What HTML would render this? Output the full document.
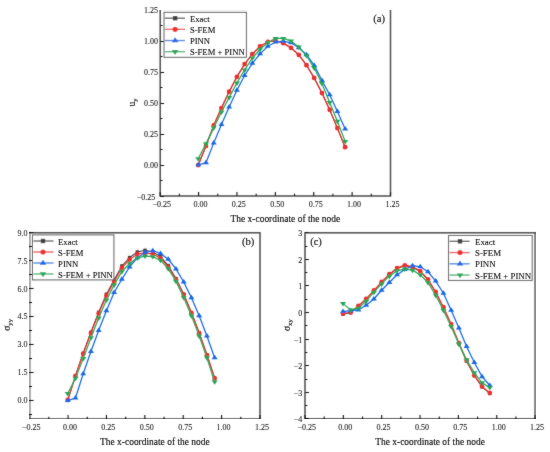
<!DOCTYPE html>
<html><head><meta charset="utf-8"><style>
html,body{margin:0;padding:0;background:#fff;}
svg{display:block;}
text{font-family:"Liberation Serif","Times New Roman",serif;stroke-width:0.12;}
</style></head><body>
<svg width="550" height="452" viewBox="0 0 550 452">
<defs><filter id="bl" x="0" y="0" width="1" height="1"><feConvolveMatrix order="3" kernelMatrix="1 2 1 2 24 2 1 2 1" edgeMode="duplicate" preserveAlpha="false"/></filter>
<filter id="bt" x="0" y="0" width="1" height="1"><feConvolveMatrix order="3" kernelMatrix="1 2 1 2 36 2 1 2 1" edgeMode="duplicate" preserveAlpha="false"/></filter></defs>
<rect width="550" height="452" fill="#fff"/>
<g filter="url(#bl)">
<polyline points="198.23,165.03 205.97,145.96 213.70,125.40 221.43,108.05 229.16,91.70 236.89,76.84 244.62,64.08 252.35,54.05 260.09,46.37 267.82,41.91 275.55,40.55 283.28,43.15 291.01,47.86 298.74,54.79 306.48,65.20 314.21,77.96 321.94,93.07 329.67,109.66 337.40,128.12 345.14,147.20" fill="none" stroke="#3c3c3c" stroke-width="1.05"/>
<rect x="196.53" y="163.33" width="3.40" height="3.40" fill="#3c3c3c"/><rect x="204.27" y="144.26" width="3.40" height="3.40" fill="#3c3c3c"/><rect x="212.00" y="123.70" width="3.40" height="3.40" fill="#3c3c3c"/><rect x="219.73" y="106.35" width="3.40" height="3.40" fill="#3c3c3c"/><rect x="227.46" y="90.00" width="3.40" height="3.40" fill="#3c3c3c"/><rect x="235.19" y="75.14" width="3.40" height="3.40" fill="#3c3c3c"/><rect x="242.92" y="62.38" width="3.40" height="3.40" fill="#3c3c3c"/><rect x="250.66" y="52.35" width="3.40" height="3.40" fill="#3c3c3c"/><rect x="258.39" y="44.67" width="3.40" height="3.40" fill="#3c3c3c"/><rect x="266.12" y="40.21" width="3.40" height="3.40" fill="#3c3c3c"/><rect x="273.85" y="38.85" width="3.40" height="3.40" fill="#3c3c3c"/><rect x="281.58" y="41.45" width="3.40" height="3.40" fill="#3c3c3c"/><rect x="289.31" y="46.16" width="3.40" height="3.40" fill="#3c3c3c"/><rect x="297.04" y="53.09" width="3.40" height="3.40" fill="#3c3c3c"/><rect x="304.78" y="63.50" width="3.40" height="3.40" fill="#3c3c3c"/><rect x="312.51" y="76.26" width="3.40" height="3.40" fill="#3c3c3c"/><rect x="320.24" y="91.37" width="3.40" height="3.40" fill="#3c3c3c"/><rect x="327.97" y="107.96" width="3.40" height="3.40" fill="#3c3c3c"/><rect x="335.70" y="126.42" width="3.40" height="3.40" fill="#3c3c3c"/><rect x="343.44" y="145.50" width="3.40" height="3.40" fill="#3c3c3c"/>
<polyline points="198.23,165.03 205.97,145.96 213.70,125.40 221.43,108.05 229.16,91.70 236.89,76.84 244.62,64.08 252.35,54.05 260.09,46.37 267.82,41.91 275.55,40.55 283.28,43.15 291.01,47.86 298.74,54.79 306.48,65.20 314.21,77.96 321.94,93.07 329.67,109.66 337.40,128.12 345.14,147.20" fill="none" stroke="#ec2d2d" stroke-width="1.25"/>
<circle cx="198.23" cy="165.03" r="2.35" fill="#ec2d2d"/><circle cx="205.97" cy="145.96" r="2.35" fill="#ec2d2d"/><circle cx="213.70" cy="125.40" r="2.35" fill="#ec2d2d"/><circle cx="221.43" cy="108.05" r="2.35" fill="#ec2d2d"/><circle cx="229.16" cy="91.70" r="2.35" fill="#ec2d2d"/><circle cx="236.89" cy="76.84" r="2.35" fill="#ec2d2d"/><circle cx="244.62" cy="64.08" r="2.35" fill="#ec2d2d"/><circle cx="252.35" cy="54.05" r="2.35" fill="#ec2d2d"/><circle cx="260.09" cy="46.37" r="2.35" fill="#ec2d2d"/><circle cx="267.82" cy="41.91" r="2.35" fill="#ec2d2d"/><circle cx="275.55" cy="40.55" r="2.35" fill="#ec2d2d"/><circle cx="283.28" cy="43.15" r="2.35" fill="#ec2d2d"/><circle cx="291.01" cy="47.86" r="2.35" fill="#ec2d2d"/><circle cx="298.74" cy="54.79" r="2.35" fill="#ec2d2d"/><circle cx="306.48" cy="65.20" r="2.35" fill="#ec2d2d"/><circle cx="314.21" cy="77.96" r="2.35" fill="#ec2d2d"/><circle cx="321.94" cy="93.07" r="2.35" fill="#ec2d2d"/><circle cx="329.67" cy="109.66" r="2.35" fill="#ec2d2d"/><circle cx="337.40" cy="128.12" r="2.35" fill="#ec2d2d"/><circle cx="345.14" cy="147.20" r="2.35" fill="#ec2d2d"/>
<polyline points="198.23,164.79 205.97,162.80 213.70,143.11 221.43,124.41 229.16,106.94 236.89,90.22 244.62,75.48 252.35,63.34 260.09,53.80 267.82,46.25 275.55,42.03 283.28,41.17 291.01,42.78 298.74,47.73 306.48,54.79 314.21,65.44 321.94,80.43 329.67,94.68 337.40,111.52 345.14,128.99" fill="none" stroke="#1767e2" stroke-width="1.25"/>
<path d="M198.23,161.79L201.23,166.29L195.23,166.29Z" fill="#1767e2"/><path d="M205.97,159.80L208.97,164.30L202.97,164.30Z" fill="#1767e2"/><path d="M213.70,140.11L216.70,144.61L210.70,144.61Z" fill="#1767e2"/><path d="M221.43,121.41L224.43,125.91L218.43,125.91Z" fill="#1767e2"/><path d="M229.16,103.94L232.16,108.44L226.16,108.44Z" fill="#1767e2"/><path d="M236.89,87.22L239.89,91.72L233.89,91.72Z" fill="#1767e2"/><path d="M244.62,72.48L247.62,76.98L241.62,76.98Z" fill="#1767e2"/><path d="M252.35,60.34L255.35,64.84L249.35,64.84Z" fill="#1767e2"/><path d="M260.09,50.80L263.09,55.30L257.09,55.30Z" fill="#1767e2"/><path d="M267.82,43.25L270.82,47.75L264.82,47.75Z" fill="#1767e2"/><path d="M275.55,39.03L278.55,43.53L272.55,43.53Z" fill="#1767e2"/><path d="M283.28,38.17L286.28,42.67L280.28,42.67Z" fill="#1767e2"/><path d="M291.01,39.78L294.01,44.28L288.01,44.28Z" fill="#1767e2"/><path d="M298.74,44.73L301.74,49.23L295.74,49.23Z" fill="#1767e2"/><path d="M306.48,51.79L309.48,56.29L303.48,56.29Z" fill="#1767e2"/><path d="M314.21,62.44L317.21,66.94L311.21,66.94Z" fill="#1767e2"/><path d="M321.94,77.43L324.94,81.93L318.94,81.93Z" fill="#1767e2"/><path d="M329.67,91.68L332.67,96.18L326.67,96.18Z" fill="#1767e2"/><path d="M337.40,108.52L340.40,113.02L334.40,113.02Z" fill="#1767e2"/><path d="M345.14,125.99L348.14,130.49L342.14,130.49Z" fill="#1767e2"/>
<polyline points="198.23,158.72 205.97,143.85 213.70,127.87 221.43,112.02 229.16,97.40 236.89,83.03 244.62,69.90 252.35,58.01 260.09,49.22 267.82,42.41 275.55,38.44 283.28,38.44 291.01,40.92 298.74,47.11 306.48,55.54 314.21,68.05 321.94,83.41 329.67,102.60 337.40,121.31 345.14,141.50" fill="none" stroke="#27a457" stroke-width="1.25"/>
<path d="M198.23,161.72L201.23,157.22L195.23,157.22Z" fill="#27a457"/><path d="M205.97,146.85L208.97,142.35L202.97,142.35Z" fill="#27a457"/><path d="M213.70,130.87L216.70,126.37L210.70,126.37Z" fill="#27a457"/><path d="M221.43,115.02L224.43,110.52L218.43,110.52Z" fill="#27a457"/><path d="M229.16,100.40L232.16,95.90L226.16,95.90Z" fill="#27a457"/><path d="M236.89,86.03L239.89,81.53L233.89,81.53Z" fill="#27a457"/><path d="M244.62,72.90L247.62,68.40L241.62,68.40Z" fill="#27a457"/><path d="M252.35,61.01L255.35,56.51L249.35,56.51Z" fill="#27a457"/><path d="M260.09,52.22L263.09,47.72L257.09,47.72Z" fill="#27a457"/><path d="M267.82,45.41L270.82,40.91L264.82,40.91Z" fill="#27a457"/><path d="M275.55,41.44L278.55,36.94L272.55,36.94Z" fill="#27a457"/><path d="M283.28,41.44L286.28,36.94L280.28,36.94Z" fill="#27a457"/><path d="M291.01,43.92L294.01,39.42L288.01,39.42Z" fill="#27a457"/><path d="M298.74,50.11L301.74,45.61L295.74,45.61Z" fill="#27a457"/><path d="M306.48,58.54L309.48,54.04L303.48,54.04Z" fill="#27a457"/><path d="M314.21,71.05L317.21,66.55L311.21,66.55Z" fill="#27a457"/><path d="M321.94,86.41L324.94,81.91L318.94,81.91Z" fill="#27a457"/><path d="M329.67,105.60L332.67,101.10L326.67,101.10Z" fill="#27a457"/><path d="M337.40,124.31L340.40,119.81L334.40,119.81Z" fill="#27a457"/><path d="M345.14,144.50L348.14,140.00L342.14,140.00Z" fill="#27a457"/>
<rect x="160.20" y="10.20" width="230.30" height="185.80" fill="none" stroke="#4e4e4e" stroke-width="1.5"/>
<path d="M160.20,196.00v-3.9M198.58,196.00v-3.9M236.97,196.00v-3.9M275.35,196.00v-3.9M313.73,196.00v-3.9M352.12,196.00v-3.9M390.50,196.00v-3.9M179.39,196.00v-2.3M217.77,196.00v-2.3M256.16,196.00v-2.3M294.54,196.00v-2.3M332.93,196.00v-2.3M371.31,196.00v-2.3M160.20,196.50h3.9M160.20,165.50h3.9M160.20,134.50h3.9M160.20,103.50h3.9M160.20,72.50h3.9M160.20,41.50h3.9M160.20,10.50h3.9M160.20,180.50h2.3M160.20,149.50h2.3M160.20,118.50h2.3M160.20,87.50h2.3M160.20,56.50h2.3M160.20,25.50h2.3" stroke="#111" stroke-width="1.1"/>
<rect x="164.00" y="12.40" width="82.4" height="44.9" fill="white" stroke="#5a5a5a" stroke-width="1"/>
<line x1="165.00" y1="18.20" x2="185.00" y2="18.20" stroke="#3c3c3c" stroke-width="1.3" stroke-opacity="0.85"/>
<rect x="172.90" y="16.00" width="4.40" height="4.40" fill="#3c3c3c"/>
<line x1="165.00" y1="29.37" x2="185.00" y2="29.37" stroke="#ec2d2d" stroke-width="1.3" stroke-opacity="0.85"/>
<circle cx="175.10" cy="29.37" r="2.59" fill="#ec2d2d"/>
<line x1="165.00" y1="40.54" x2="185.00" y2="40.54" stroke="#1767e2" stroke-width="1.3" stroke-opacity="0.85"/>
<path d="M175.10,37.24L178.40,42.19L171.80,42.19Z" fill="#1767e2"/>
<line x1="165.00" y1="51.71" x2="185.00" y2="51.71" stroke="#27a457" stroke-width="1.3" stroke-opacity="0.85"/>
<path d="M175.10,55.01L178.40,50.06L171.80,50.06Z" fill="#27a457"/>
<polyline points="67.73,400.38 75.47,375.62 83.20,353.27 90.93,332.23 98.66,312.31 106.39,294.25 114.12,279.91 121.86,265.94 129.59,257.56 137.32,251.98 145.05,250.30 152.78,251.98 160.51,256.63 168.25,265.57 175.98,278.61 183.71,294.06 191.44,312.49 199.17,332.79 206.90,354.76 214.64,378.04" fill="none" stroke="#3c3c3c" stroke-width="1.05"/>
<rect x="66.03" y="398.68" width="3.40" height="3.40" fill="#3c3c3c"/><rect x="73.77" y="373.92" width="3.40" height="3.40" fill="#3c3c3c"/><rect x="81.50" y="351.57" width="3.40" height="3.40" fill="#3c3c3c"/><rect x="89.23" y="330.53" width="3.40" height="3.40" fill="#3c3c3c"/><rect x="96.96" y="310.61" width="3.40" height="3.40" fill="#3c3c3c"/><rect x="104.69" y="292.55" width="3.40" height="3.40" fill="#3c3c3c"/><rect x="112.42" y="278.21" width="3.40" height="3.40" fill="#3c3c3c"/><rect x="120.16" y="264.24" width="3.40" height="3.40" fill="#3c3c3c"/><rect x="127.89" y="255.86" width="3.40" height="3.40" fill="#3c3c3c"/><rect x="135.62" y="250.28" width="3.40" height="3.40" fill="#3c3c3c"/><rect x="143.35" y="248.60" width="3.40" height="3.40" fill="#3c3c3c"/><rect x="151.08" y="250.28" width="3.40" height="3.40" fill="#3c3c3c"/><rect x="158.81" y="254.93" width="3.40" height="3.40" fill="#3c3c3c"/><rect x="166.55" y="263.87" width="3.40" height="3.40" fill="#3c3c3c"/><rect x="174.28" y="276.91" width="3.40" height="3.40" fill="#3c3c3c"/><rect x="182.01" y="292.36" width="3.40" height="3.40" fill="#3c3c3c"/><rect x="189.74" y="310.79" width="3.40" height="3.40" fill="#3c3c3c"/><rect x="197.47" y="331.09" width="3.40" height="3.40" fill="#3c3c3c"/><rect x="205.20" y="353.06" width="3.40" height="3.40" fill="#3c3c3c"/><rect x="212.94" y="376.34" width="3.40" height="3.40" fill="#3c3c3c"/>
<polyline points="67.73,399.82 75.47,375.99 83.20,353.83 90.93,332.98 98.66,313.42 106.39,295.74 114.12,281.58 121.86,267.81 129.59,259.61 137.32,254.03 145.05,252.91 152.78,254.03 160.51,258.31 168.25,266.87 175.98,279.54 183.71,294.80 191.44,313.05 199.17,333.16 206.90,355.13 214.64,378.41" fill="none" stroke="#ec2d2d" stroke-width="1.25"/>
<circle cx="67.73" cy="399.82" r="2.35" fill="#ec2d2d"/><circle cx="75.47" cy="375.99" r="2.35" fill="#ec2d2d"/><circle cx="83.20" cy="353.83" r="2.35" fill="#ec2d2d"/><circle cx="90.93" cy="332.98" r="2.35" fill="#ec2d2d"/><circle cx="98.66" cy="313.42" r="2.35" fill="#ec2d2d"/><circle cx="106.39" cy="295.74" r="2.35" fill="#ec2d2d"/><circle cx="114.12" cy="281.58" r="2.35" fill="#ec2d2d"/><circle cx="121.86" cy="267.81" r="2.35" fill="#ec2d2d"/><circle cx="129.59" cy="259.61" r="2.35" fill="#ec2d2d"/><circle cx="137.32" cy="254.03" r="2.35" fill="#ec2d2d"/><circle cx="145.05" cy="252.91" r="2.35" fill="#ec2d2d"/><circle cx="152.78" cy="254.03" r="2.35" fill="#ec2d2d"/><circle cx="160.51" cy="258.31" r="2.35" fill="#ec2d2d"/><circle cx="168.25" cy="266.87" r="2.35" fill="#ec2d2d"/><circle cx="175.98" cy="279.54" r="2.35" fill="#ec2d2d"/><circle cx="183.71" cy="294.80" r="2.35" fill="#ec2d2d"/><circle cx="191.44" cy="313.05" r="2.35" fill="#ec2d2d"/><circle cx="199.17" cy="333.16" r="2.35" fill="#ec2d2d"/><circle cx="206.90" cy="355.13" r="2.35" fill="#ec2d2d"/><circle cx="214.64" cy="378.41" r="2.35" fill="#ec2d2d"/>
<polyline points="67.73,400.62 75.47,398.02 83.20,373.81 90.93,351.47 98.66,330.42 106.39,310.69 114.12,292.44 121.86,279.22 129.59,266.93 137.32,257.81 145.05,252.59 152.78,250.73 160.51,253.52 168.25,259.30 175.98,268.98 183.71,282.01 191.44,297.65 199.17,315.71 206.90,336.01 214.64,357.80" fill="none" stroke="#1767e2" stroke-width="1.25"/>
<path d="M67.73,397.62L70.73,402.12L64.73,402.12Z" fill="#1767e2"/><path d="M75.47,395.02L78.47,399.52L72.47,399.52Z" fill="#1767e2"/><path d="M83.20,370.81L86.20,375.31L80.20,375.31Z" fill="#1767e2"/><path d="M90.93,348.47L93.93,352.97L87.93,352.97Z" fill="#1767e2"/><path d="M98.66,327.42L101.66,331.92L95.66,331.92Z" fill="#1767e2"/><path d="M106.39,307.69L109.39,312.19L103.39,312.19Z" fill="#1767e2"/><path d="M114.12,289.44L117.12,293.94L111.12,293.94Z" fill="#1767e2"/><path d="M121.86,276.22L124.86,280.72L118.86,280.72Z" fill="#1767e2"/><path d="M129.59,263.93L132.59,268.43L126.59,268.43Z" fill="#1767e2"/><path d="M137.32,254.81L140.32,259.31L134.32,259.31Z" fill="#1767e2"/><path d="M145.05,249.59L148.05,254.09L142.05,254.09Z" fill="#1767e2"/><path d="M152.78,247.73L155.78,252.23L149.78,252.23Z" fill="#1767e2"/><path d="M160.51,250.52L163.51,255.02L157.51,255.02Z" fill="#1767e2"/><path d="M168.25,256.30L171.25,260.80L165.25,260.80Z" fill="#1767e2"/><path d="M175.98,265.98L178.98,270.48L172.98,270.48Z" fill="#1767e2"/><path d="M183.71,279.01L186.71,283.51L180.71,283.51Z" fill="#1767e2"/><path d="M191.44,294.65L194.44,299.15L188.44,299.15Z" fill="#1767e2"/><path d="M199.17,312.71L202.17,317.21L196.17,317.21Z" fill="#1767e2"/><path d="M206.90,333.01L209.90,337.51L203.90,337.51Z" fill="#1767e2"/><path d="M214.64,354.80L217.64,359.30L211.64,359.30Z" fill="#1767e2"/>
<polyline points="67.73,393.43 75.47,378.17 83.20,358.62 90.93,337.76 98.66,318.02 106.39,299.96 114.12,284.88 121.86,271.47 129.59,263.47 137.32,257.88 145.05,256.02 152.78,256.58 160.51,260.30 168.25,268.68 175.98,281.16 183.71,297.54 191.44,315.79 199.17,335.90 206.90,357.87 214.64,381.70" fill="none" stroke="#27a457" stroke-width="1.25"/>
<path d="M67.73,396.43L70.73,391.93L64.73,391.93Z" fill="#27a457"/><path d="M75.47,381.17L78.47,376.67L72.47,376.67Z" fill="#27a457"/><path d="M83.20,361.62L86.20,357.12L80.20,357.12Z" fill="#27a457"/><path d="M90.93,340.76L93.93,336.26L87.93,336.26Z" fill="#27a457"/><path d="M98.66,321.02L101.66,316.52L95.66,316.52Z" fill="#27a457"/><path d="M106.39,302.96L109.39,298.46L103.39,298.46Z" fill="#27a457"/><path d="M114.12,287.88L117.12,283.38L111.12,283.38Z" fill="#27a457"/><path d="M121.86,274.47L124.86,269.97L118.86,269.97Z" fill="#27a457"/><path d="M129.59,266.47L132.59,261.97L126.59,261.97Z" fill="#27a457"/><path d="M137.32,260.88L140.32,256.38L134.32,256.38Z" fill="#27a457"/><path d="M145.05,259.02L148.05,254.52L142.05,254.52Z" fill="#27a457"/><path d="M152.78,259.58L155.78,255.08L149.78,255.08Z" fill="#27a457"/><path d="M160.51,263.30L163.51,258.80L157.51,258.80Z" fill="#27a457"/><path d="M168.25,271.68L171.25,267.18L165.25,267.18Z" fill="#27a457"/><path d="M175.98,284.16L178.98,279.66L172.98,279.66Z" fill="#27a457"/><path d="M183.71,300.54L186.71,296.04L180.71,296.04Z" fill="#27a457"/><path d="M191.44,318.79L194.44,314.29L188.44,314.29Z" fill="#27a457"/><path d="M199.17,338.90L202.17,334.40L196.17,334.40Z" fill="#27a457"/><path d="M206.90,360.87L209.90,356.37L203.90,356.37Z" fill="#27a457"/><path d="M214.64,384.70L217.64,380.20L211.64,380.20Z" fill="#27a457"/>
<rect x="29.70" y="232.80" width="230.30" height="186.20" fill="none" stroke="#4e4e4e" stroke-width="1.5"/>
<path d="M29.70,419.00v-3.9M68.08,419.00v-3.9M106.47,419.00v-3.9M144.85,419.00v-3.9M183.23,419.00v-3.9M221.62,419.00v-3.9M260.00,419.00v-3.9M48.89,419.00v-2.3M87.28,419.00v-2.3M125.66,419.00v-2.3M164.04,419.00v-2.3M202.43,419.00v-2.3M240.81,419.00v-2.3M29.70,400.50h3.9M29.70,372.50h3.9M29.70,344.50h3.9M29.70,316.50h3.9M29.70,288.50h3.9M29.70,260.50h3.9M29.70,232.50h3.9M29.70,414.50h2.3M29.70,386.50h2.3M29.70,358.50h2.3M29.70,330.50h2.3M29.70,302.50h2.3M29.70,274.50h2.3M29.70,246.50h2.3" stroke="#111" stroke-width="1.1"/>
<rect x="32.50" y="234.90" width="81.4" height="45.0" fill="white" stroke="#5a5a5a" stroke-width="1"/>
<line x1="33.50" y1="241.00" x2="53.50" y2="241.00" stroke="#3c3c3c" stroke-width="1.3" stroke-opacity="0.85"/>
<rect x="40.80" y="238.80" width="4.40" height="4.40" fill="#3c3c3c"/>
<line x1="33.50" y1="252.00" x2="53.50" y2="252.00" stroke="#ec2d2d" stroke-width="1.3" stroke-opacity="0.85"/>
<circle cx="43.00" cy="252.00" r="2.59" fill="#ec2d2d"/>
<line x1="33.50" y1="263.00" x2="53.50" y2="263.00" stroke="#1767e2" stroke-width="1.3" stroke-opacity="0.85"/>
<path d="M43.00,259.70L46.30,264.65L39.70,264.65Z" fill="#1767e2"/>
<line x1="33.50" y1="274.00" x2="53.50" y2="274.00" stroke="#27a457" stroke-width="1.3" stroke-opacity="0.85"/>
<path d="M43.00,277.30L46.30,272.35L39.70,272.35Z" fill="#27a457"/>
<polyline points="343.00,314.13 350.72,312.80 358.45,306.34 366.18,299.42 373.90,290.97 381.62,282.49 389.35,274.70 397.07,268.58 404.80,265.79 412.52,267.31 420.25,271.51 427.98,279.91 435.70,292.48 443.42,307.75 451.15,324.65 458.87,343.53 466.60,361.24 474.32,375.75 482.05,386.89 489.78,393.46" fill="none" stroke="#3c3c3c" stroke-width="1.05"/>
<rect x="341.30" y="312.43" width="3.40" height="3.40" fill="#3c3c3c"/><rect x="349.02" y="311.10" width="3.40" height="3.40" fill="#3c3c3c"/><rect x="356.75" y="304.64" width="3.40" height="3.40" fill="#3c3c3c"/><rect x="364.48" y="297.72" width="3.40" height="3.40" fill="#3c3c3c"/><rect x="372.20" y="289.27" width="3.40" height="3.40" fill="#3c3c3c"/><rect x="379.92" y="280.79" width="3.40" height="3.40" fill="#3c3c3c"/><rect x="387.65" y="273.00" width="3.40" height="3.40" fill="#3c3c3c"/><rect x="395.38" y="266.88" width="3.40" height="3.40" fill="#3c3c3c"/><rect x="403.10" y="264.09" width="3.40" height="3.40" fill="#3c3c3c"/><rect x="410.82" y="265.61" width="3.40" height="3.40" fill="#3c3c3c"/><rect x="418.55" y="269.81" width="3.40" height="3.40" fill="#3c3c3c"/><rect x="426.28" y="278.21" width="3.40" height="3.40" fill="#3c3c3c"/><rect x="434.00" y="290.78" width="3.40" height="3.40" fill="#3c3c3c"/><rect x="441.72" y="306.05" width="3.40" height="3.40" fill="#3c3c3c"/><rect x="449.45" y="322.95" width="3.40" height="3.40" fill="#3c3c3c"/><rect x="457.17" y="341.83" width="3.40" height="3.40" fill="#3c3c3c"/><rect x="464.90" y="359.54" width="3.40" height="3.40" fill="#3c3c3c"/><rect x="472.62" y="374.05" width="3.40" height="3.40" fill="#3c3c3c"/><rect x="480.35" y="385.19" width="3.40" height="3.40" fill="#3c3c3c"/><rect x="488.08" y="391.76" width="3.40" height="3.40" fill="#3c3c3c"/>
<polyline points="343.00,313.59 350.72,312.26 358.45,305.80 366.18,298.89 373.90,290.44 381.62,281.96 389.35,274.17 397.07,268.05 404.80,265.26 412.52,266.78 420.25,270.98 427.98,279.38 435.70,291.95 443.42,307.21 451.15,324.12 458.87,343.00 466.60,360.70 474.32,375.22 482.05,386.36 489.78,392.93" fill="none" stroke="#ec2d2d" stroke-width="1.25"/>
<circle cx="343.00" cy="313.59" r="2.35" fill="#ec2d2d"/><circle cx="350.72" cy="312.26" r="2.35" fill="#ec2d2d"/><circle cx="358.45" cy="305.80" r="2.35" fill="#ec2d2d"/><circle cx="366.18" cy="298.89" r="2.35" fill="#ec2d2d"/><circle cx="373.90" cy="290.44" r="2.35" fill="#ec2d2d"/><circle cx="381.62" cy="281.96" r="2.35" fill="#ec2d2d"/><circle cx="389.35" cy="274.17" r="2.35" fill="#ec2d2d"/><circle cx="397.07" cy="268.05" r="2.35" fill="#ec2d2d"/><circle cx="404.80" cy="265.26" r="2.35" fill="#ec2d2d"/><circle cx="412.52" cy="266.78" r="2.35" fill="#ec2d2d"/><circle cx="420.25" cy="270.98" r="2.35" fill="#ec2d2d"/><circle cx="427.98" cy="279.38" r="2.35" fill="#ec2d2d"/><circle cx="435.70" cy="291.95" r="2.35" fill="#ec2d2d"/><circle cx="443.42" cy="307.21" r="2.35" fill="#ec2d2d"/><circle cx="451.15" cy="324.12" r="2.35" fill="#ec2d2d"/><circle cx="458.87" cy="343.00" r="2.35" fill="#ec2d2d"/><circle cx="466.60" cy="360.70" r="2.35" fill="#ec2d2d"/><circle cx="474.32" cy="375.22" r="2.35" fill="#ec2d2d"/><circle cx="482.05" cy="386.36" r="2.35" fill="#ec2d2d"/><circle cx="489.78" cy="392.93" r="2.35" fill="#ec2d2d"/>
<polyline points="343.00,311.60 350.72,310.70 358.45,309.93 366.18,305.27 373.90,299.00 381.62,290.23 389.35,282.44 397.07,274.73 404.80,269.46 412.52,265.63 420.25,266.78 427.98,271.75 435.70,281.11 443.42,293.28 451.15,310.27 458.87,327.90 466.60,346.56 474.32,362.49 482.05,376.63 489.78,385.48" fill="none" stroke="#1767e2" stroke-width="1.25"/>
<path d="M343.00,308.60L346.00,313.10L340.00,313.10Z" fill="#1767e2"/><path d="M350.72,307.70L353.72,312.20L347.72,312.20Z" fill="#1767e2"/><path d="M358.45,306.93L361.45,311.43L355.45,311.43Z" fill="#1767e2"/><path d="M366.18,302.27L369.18,306.77L363.18,306.77Z" fill="#1767e2"/><path d="M373.90,296.00L376.90,300.50L370.90,300.50Z" fill="#1767e2"/><path d="M381.62,287.23L384.62,291.73L378.62,291.73Z" fill="#1767e2"/><path d="M389.35,279.44L392.35,283.94L386.35,283.94Z" fill="#1767e2"/><path d="M397.07,271.73L400.07,276.23L394.07,276.23Z" fill="#1767e2"/><path d="M404.80,266.46L407.80,270.96L401.80,270.96Z" fill="#1767e2"/><path d="M412.52,262.63L415.52,267.13L409.52,267.13Z" fill="#1767e2"/><path d="M420.25,263.78L423.25,268.28L417.25,268.28Z" fill="#1767e2"/><path d="M427.98,268.75L430.98,273.25L424.98,273.25Z" fill="#1767e2"/><path d="M435.70,278.11L438.70,282.61L432.70,282.61Z" fill="#1767e2"/><path d="M443.42,290.28L446.42,294.78L440.42,294.78Z" fill="#1767e2"/><path d="M451.15,307.27L454.15,311.77L448.15,311.77Z" fill="#1767e2"/><path d="M458.87,324.90L461.87,329.40L455.87,329.40Z" fill="#1767e2"/><path d="M466.60,343.56L469.60,348.06L463.60,348.06Z" fill="#1767e2"/><path d="M474.32,359.49L477.32,363.99L471.32,363.99Z" fill="#1767e2"/><path d="M482.05,373.63L485.05,378.13L479.05,378.13Z" fill="#1767e2"/><path d="M489.78,382.48L492.78,386.98L486.78,386.98Z" fill="#1767e2"/>
<polyline points="343.00,303.62 350.72,309.93 358.45,308.28 366.18,301.13 373.90,292.19 381.62,283.92 389.35,276.13 397.07,270.68 404.80,269.06 412.52,270.21 420.25,274.81 427.98,282.44 435.70,295.28 443.42,310.27 451.15,326.59 458.87,343.90 466.60,359.83 474.32,372.75 482.05,382.82 489.78,387.61" fill="none" stroke="#27a457" stroke-width="1.25"/>
<path d="M343.00,306.62L346.00,302.12L340.00,302.12Z" fill="#27a457"/><path d="M350.72,312.93L353.72,308.43L347.72,308.43Z" fill="#27a457"/><path d="M358.45,311.28L361.45,306.78L355.45,306.78Z" fill="#27a457"/><path d="M366.18,304.13L369.18,299.63L363.18,299.63Z" fill="#27a457"/><path d="M373.90,295.19L376.90,290.69L370.90,290.69Z" fill="#27a457"/><path d="M381.62,286.92L384.62,282.42L378.62,282.42Z" fill="#27a457"/><path d="M389.35,279.13L392.35,274.63L386.35,274.63Z" fill="#27a457"/><path d="M397.07,273.68L400.07,269.18L394.07,269.18Z" fill="#27a457"/><path d="M404.80,272.06L407.80,267.56L401.80,267.56Z" fill="#27a457"/><path d="M412.52,273.21L415.52,268.71L409.52,268.71Z" fill="#27a457"/><path d="M420.25,277.81L423.25,273.31L417.25,273.31Z" fill="#27a457"/><path d="M427.98,285.44L430.98,280.94L424.98,280.94Z" fill="#27a457"/><path d="M435.70,298.28L438.70,293.78L432.70,293.78Z" fill="#27a457"/><path d="M443.42,313.27L446.42,308.77L440.42,308.77Z" fill="#27a457"/><path d="M451.15,329.59L454.15,325.09L448.15,325.09Z" fill="#27a457"/><path d="M458.87,346.90L461.87,342.40L455.87,342.40Z" fill="#27a457"/><path d="M466.60,362.83L469.60,358.33L463.60,358.33Z" fill="#27a457"/><path d="M474.32,375.75L477.32,371.25L471.32,371.25Z" fill="#27a457"/><path d="M482.05,385.82L485.05,381.32L479.05,381.32Z" fill="#27a457"/><path d="M489.78,390.61L492.78,386.11L486.78,386.11Z" fill="#27a457"/>
<rect x="305.00" y="232.80" width="230.10" height="186.10" fill="none" stroke="#4e4e4e" stroke-width="1.5"/>
<path d="M305.00,418.90v-3.9M343.35,418.90v-3.9M381.70,418.90v-3.9M420.05,418.90v-3.9M458.40,418.90v-3.9M496.75,418.90v-3.9M535.10,418.90v-3.9M324.18,418.90v-2.3M362.52,418.90v-2.3M400.88,418.90v-2.3M439.23,418.90v-2.3M477.58,418.90v-2.3M515.92,418.90v-2.3M305.00,418.50h3.9M305.00,392.50h3.9M305.00,365.50h3.9M305.00,339.50h3.9M305.00,312.50h3.9M305.00,285.50h3.9M305.00,259.50h3.9M305.00,232.50h3.9M305.00,405.50h2.3M305.00,379.50h2.3M305.00,352.50h2.3M305.00,325.50h2.3M305.00,299.50h2.3M305.00,272.50h2.3M305.00,246.50h2.3" stroke="#111" stroke-width="1.1"/>
<rect x="448.60" y="235.50" width="83.6" height="44.9" fill="white" stroke="#5a5a5a" stroke-width="1"/>
<line x1="449.60" y1="241.30" x2="469.60" y2="241.30" stroke="#3c3c3c" stroke-width="1.3" stroke-opacity="0.85"/>
<rect x="457.80" y="239.10" width="4.40" height="4.40" fill="#3c3c3c"/>
<line x1="449.60" y1="252.55" x2="469.60" y2="252.55" stroke="#ec2d2d" stroke-width="1.3" stroke-opacity="0.85"/>
<circle cx="460.00" cy="252.55" r="2.59" fill="#ec2d2d"/>
<line x1="449.60" y1="263.80" x2="469.60" y2="263.80" stroke="#1767e2" stroke-width="1.3" stroke-opacity="0.85"/>
<path d="M460.00,260.50L463.30,265.45L456.70,265.45Z" fill="#1767e2"/>
<line x1="449.60" y1="275.05" x2="469.60" y2="275.05" stroke="#27a457" stroke-width="1.3" stroke-opacity="0.85"/>
<path d="M460.00,278.35L463.30,273.40L456.70,273.40Z" fill="#27a457"/>
</g>
<g filter="url(#bt)">
<rect width="550" height="452" fill="none"/>
<text transform="translate(162.10,207.20) scale(1.0,1)" font-size="8.0" fill="#262626" stroke="#262626" style="stroke-width:0.1px" text-anchor="middle"><tspan dy="-1.0">–</tspan><tspan dy="1.0">0.25</tspan></text>
<text transform="translate(200.48,207.20) scale(1.0,1)" font-size="8.0" fill="#262626" stroke="#262626" style="stroke-width:0.1px" text-anchor="middle">0.00</text>
<text transform="translate(238.87,207.20) scale(1.0,1)" font-size="8.0" fill="#262626" stroke="#262626" style="stroke-width:0.1px" text-anchor="middle">0.25</text>
<text transform="translate(277.25,207.20) scale(1.0,1)" font-size="8.0" fill="#262626" stroke="#262626" style="stroke-width:0.1px" text-anchor="middle">0.50</text>
<text transform="translate(315.63,207.20) scale(1.0,1)" font-size="8.0" fill="#262626" stroke="#262626" style="stroke-width:0.1px" text-anchor="middle">0.75</text>
<text transform="translate(354.02,207.20) scale(1.0,1)" font-size="8.0" fill="#262626" stroke="#262626" style="stroke-width:0.1px" text-anchor="middle">1.00</text>
<text transform="translate(392.40,207.20) scale(1.0,1)" font-size="8.0" fill="#262626" stroke="#262626" style="stroke-width:0.1px" text-anchor="middle">1.25</text>
<text transform="translate(155.30,199.70) scale(1.0,1)" font-size="8.0" fill="#262626" stroke="#262626" style="stroke-width:0.1px" text-anchor="end"><tspan dy="-1.0">–</tspan><tspan dy="1.0">0.25</tspan></text>
<text transform="translate(158.00,167.93) scale(1.0,1)" font-size="8.0" fill="#262626" stroke="#262626" style="stroke-width:0.1px" text-anchor="end">0.00</text>
<text transform="translate(158.00,136.97) scale(1.0,1)" font-size="8.0" fill="#262626" stroke="#262626" style="stroke-width:0.1px" text-anchor="end">0.25</text>
<text transform="translate(158.00,106.00) scale(1.0,1)" font-size="8.0" fill="#262626" stroke="#262626" style="stroke-width:0.1px" text-anchor="end">0.50</text>
<text transform="translate(158.00,75.03) scale(1.0,1)" font-size="8.0" fill="#262626" stroke="#262626" style="stroke-width:0.1px" text-anchor="end">0.75</text>
<text transform="translate(158.00,44.07) scale(1.0,1)" font-size="8.0" fill="#262626" stroke="#262626" style="stroke-width:0.1px" text-anchor="end">1.00</text>
<text transform="translate(158.00,13.10) scale(1.0,1)" font-size="8.0" fill="#262626" stroke="#262626" style="stroke-width:0.1px" text-anchor="end">1.25</text>
<text transform="translate(285.35,222.40) scale(1.0,1)" font-size="9.45" fill="#0a0a0a" stroke="#0a0a0a" text-anchor="middle">The x-coordinate of the node</text>
<text transform="translate(189.90,21.80) scale(1.0,1)" font-size="8.65" fill="#0a0a0a" stroke="#0a0a0a" style="stroke-width:0.1px">Exact</text>
<text transform="translate(189.90,32.97) scale(1.0,1)" font-size="8.65" fill="#0a0a0a" stroke="#0a0a0a" style="stroke-width:0.1px">S-FEM</text>
<text transform="translate(189.90,44.14) scale(1.0,1)" font-size="8.65" fill="#0a0a0a" stroke="#0a0a0a" style="stroke-width:0.1px">PINN</text>
<text transform="translate(189.90,55.31) scale(1.0,1)" font-size="8.65" fill="#0a0a0a" stroke="#0a0a0a" style="stroke-width:0.1px">S-FEM + PINN</text>
<text transform="translate(379.10,21.60) scale(1.0,1)" font-size="10.6" fill="#0a0a0a" stroke="#0a0a0a" text-anchor="middle">(a)</text>
<text transform="translate(31.60,430.20) scale(1.0,1)" font-size="8.0" fill="#262626" stroke="#262626" style="stroke-width:0.1px" text-anchor="middle"><tspan dy="-1.0">–</tspan><tspan dy="1.0">0.25</tspan></text>
<text transform="translate(69.98,430.20) scale(1.0,1)" font-size="8.0" fill="#262626" stroke="#262626" style="stroke-width:0.1px" text-anchor="middle">0.00</text>
<text transform="translate(108.37,430.20) scale(1.0,1)" font-size="8.0" fill="#262626" stroke="#262626" style="stroke-width:0.1px" text-anchor="middle">0.25</text>
<text transform="translate(146.75,430.20) scale(1.0,1)" font-size="8.0" fill="#262626" stroke="#262626" style="stroke-width:0.1px" text-anchor="middle">0.50</text>
<text transform="translate(185.13,430.20) scale(1.0,1)" font-size="8.0" fill="#262626" stroke="#262626" style="stroke-width:0.1px" text-anchor="middle">0.75</text>
<text transform="translate(223.52,430.20) scale(1.0,1)" font-size="8.0" fill="#262626" stroke="#262626" style="stroke-width:0.1px" text-anchor="middle">1.00</text>
<text transform="translate(261.90,430.20) scale(1.0,1)" font-size="8.0" fill="#262626" stroke="#262626" style="stroke-width:0.1px" text-anchor="middle">1.25</text>
<text transform="translate(27.50,403.28) scale(1.0,1)" font-size="8.0" fill="#262626" stroke="#262626" style="stroke-width:0.1px" text-anchor="end">0.0</text>
<text transform="translate(27.50,375.35) scale(1.0,1)" font-size="8.0" fill="#262626" stroke="#262626" style="stroke-width:0.1px" text-anchor="end">1.5</text>
<text transform="translate(27.50,347.42) scale(1.0,1)" font-size="8.0" fill="#262626" stroke="#262626" style="stroke-width:0.1px" text-anchor="end">3.0</text>
<text transform="translate(27.50,319.49) scale(1.0,1)" font-size="8.0" fill="#262626" stroke="#262626" style="stroke-width:0.1px" text-anchor="end">4.5</text>
<text transform="translate(27.50,291.56) scale(1.0,1)" font-size="8.0" fill="#262626" stroke="#262626" style="stroke-width:0.1px" text-anchor="end">6.0</text>
<text transform="translate(27.50,263.63) scale(1.0,1)" font-size="8.0" fill="#262626" stroke="#262626" style="stroke-width:0.1px" text-anchor="end">7.5</text>
<text transform="translate(27.50,235.70) scale(1.0,1)" font-size="8.0" fill="#262626" stroke="#262626" style="stroke-width:0.1px" text-anchor="end">9.0</text>
<text transform="translate(154.85,445.40) scale(1.0,1)" font-size="9.45" fill="#0a0a0a" stroke="#0a0a0a" text-anchor="middle">The x-coordinate of the node</text>
<text transform="translate(58.10,244.60) scale(1.0,1)" font-size="8.65" fill="#0a0a0a" stroke="#0a0a0a" style="stroke-width:0.1px">Exact</text>
<text transform="translate(58.10,255.60) scale(1.0,1)" font-size="8.65" fill="#0a0a0a" stroke="#0a0a0a" style="stroke-width:0.1px">S-FEM</text>
<text transform="translate(58.10,266.60) scale(1.0,1)" font-size="8.65" fill="#0a0a0a" stroke="#0a0a0a" style="stroke-width:0.1px">PINN</text>
<text transform="translate(58.10,277.60) scale(1.0,1)" font-size="8.65" fill="#0a0a0a" stroke="#0a0a0a" style="stroke-width:0.1px">S-FEM + PINN</text>
<text transform="translate(248.20,244.80) scale(1.0,1)" font-size="10.6" fill="#0a0a0a" stroke="#0a0a0a" text-anchor="middle">(b)</text>
<text transform="translate(306.90,430.10) scale(1.0,1)" font-size="8.0" fill="#262626" stroke="#262626" style="stroke-width:0.1px" text-anchor="middle"><tspan dy="-1.0">–</tspan><tspan dy="1.0">0.25</tspan></text>
<text transform="translate(345.25,430.10) scale(1.0,1)" font-size="8.0" fill="#262626" stroke="#262626" style="stroke-width:0.1px" text-anchor="middle">0.00</text>
<text transform="translate(383.60,430.10) scale(1.0,1)" font-size="8.0" fill="#262626" stroke="#262626" style="stroke-width:0.1px" text-anchor="middle">0.25</text>
<text transform="translate(421.95,430.10) scale(1.0,1)" font-size="8.0" fill="#262626" stroke="#262626" style="stroke-width:0.1px" text-anchor="middle">0.50</text>
<text transform="translate(460.30,430.10) scale(1.0,1)" font-size="8.0" fill="#262626" stroke="#262626" style="stroke-width:0.1px" text-anchor="middle">0.75</text>
<text transform="translate(498.65,430.10) scale(1.0,1)" font-size="8.0" fill="#262626" stroke="#262626" style="stroke-width:0.1px" text-anchor="middle">1.00</text>
<text transform="translate(537.00,430.10) scale(1.0,1)" font-size="8.0" fill="#262626" stroke="#262626" style="stroke-width:0.1px" text-anchor="middle">1.25</text>
<text transform="translate(302.20,422.40) scale(1.0,1)" font-size="8.0" fill="#262626" stroke="#262626" style="stroke-width:0.1px" text-anchor="end"><tspan dy="-1.0">–</tspan><tspan dy="1.0">4</tspan></text>
<text transform="translate(302.20,395.81) scale(1.0,1)" font-size="8.0" fill="#262626" stroke="#262626" style="stroke-width:0.1px" text-anchor="end"><tspan dy="-1.0">–</tspan><tspan dy="1.0">3</tspan></text>
<text transform="translate(302.20,369.23) scale(1.0,1)" font-size="8.0" fill="#262626" stroke="#262626" style="stroke-width:0.1px" text-anchor="end"><tspan dy="-1.0">–</tspan><tspan dy="1.0">2</tspan></text>
<text transform="translate(302.20,342.64) scale(1.0,1)" font-size="8.0" fill="#262626" stroke="#262626" style="stroke-width:0.1px" text-anchor="end"><tspan dy="-1.0">–</tspan><tspan dy="1.0">1</tspan></text>
<text transform="translate(302.20,316.06) scale(1.0,1)" font-size="8.0" fill="#262626" stroke="#262626" style="stroke-width:0.1px" text-anchor="end">0</text>
<text transform="translate(302.20,289.47) scale(1.0,1)" font-size="8.0" fill="#262626" stroke="#262626" style="stroke-width:0.1px" text-anchor="end">1</text>
<text transform="translate(302.20,262.89) scale(1.0,1)" font-size="8.0" fill="#262626" stroke="#262626" style="stroke-width:0.1px" text-anchor="end">2</text>
<text transform="translate(302.20,236.30) scale(1.0,1)" font-size="8.0" fill="#262626" stroke="#262626" style="stroke-width:0.1px" text-anchor="end">3</text>
<text transform="translate(430.05,445.30) scale(1.0,1)" font-size="9.45" fill="#0a0a0a" stroke="#0a0a0a" text-anchor="middle">The x-coordinate of the node</text>
<text transform="translate(475.00,244.90) scale(1.0,1)" font-size="8.85" fill="#0a0a0a" stroke="#0a0a0a" style="stroke-width:0.1px">Exact</text>
<text transform="translate(475.00,256.15) scale(1.0,1)" font-size="8.85" fill="#0a0a0a" stroke="#0a0a0a" style="stroke-width:0.1px">S-FEM</text>
<text transform="translate(475.00,267.40) scale(1.0,1)" font-size="8.85" fill="#0a0a0a" stroke="#0a0a0a" style="stroke-width:0.1px">PINN</text>
<text transform="translate(475.00,278.65) scale(1.0,1)" font-size="8.85" fill="#0a0a0a" stroke="#0a0a0a" style="stroke-width:0.1px">S-FEM + PINN</text>
<text transform="translate(316.00,245.00) scale(1.0,1)" font-size="10.6" fill="#0a0a0a" stroke="#0a0a0a" text-anchor="middle">(c)</text>
<text transform="translate(134.7,102.4) rotate(-90) scale(1.0,1)" text-anchor="middle" font-size="9.45" fill="#0a0a0a" stroke="#0a0a0a">u<tspan font-size="6.8" dy="1.9">y</tspan></text>
<text transform="translate(10.2,324.8) rotate(-90) scale(1.0,1)" text-anchor="middle" font-size="9.45" fill="#0a0a0a" stroke="#0a0a0a">σ<tspan font-size="6.8" dy="1.9">yy</tspan></text>
<text transform="translate(289.6,325.1) rotate(-90) scale(1.0,1)" text-anchor="middle" font-size="9.45" fill="#0a0a0a" stroke="#0a0a0a">σ<tspan font-size="6.8" dy="1.9">xy</tspan></text>
</g>
</svg>
</body></html>
